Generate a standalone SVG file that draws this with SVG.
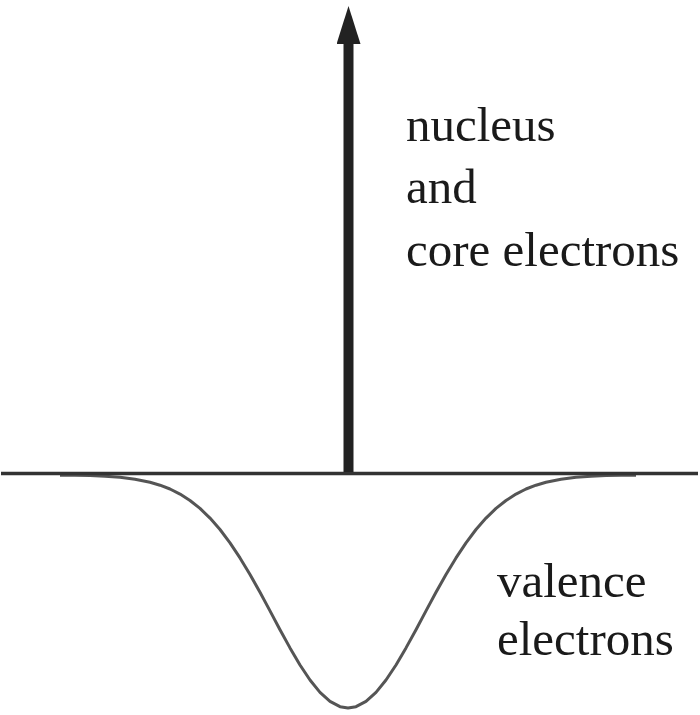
<svg xmlns="http://www.w3.org/2000/svg" width="700" height="715" viewBox="0 0 700 715">
<style>
text{font-family:"Liberation Serif","Times New Roman",serif;font-size:49px;fill:#1a1a1a}
</style>
<defs>
<marker id="ah" viewBox="0 0 38 24" refX="2" refY="12" markerWidth="38" markerHeight="24" markerUnits="userSpaceOnUse" orient="auto">
<path d="M0 0 L38 12 L0 24 Z" fill="#222"/>
</marker>
</defs>
<rect width="700" height="715" fill="#fff"/>
<g id="connectors">
<polyline id="curve" fill="none" stroke="#555" stroke-width="3" stroke-linejoin="round" points="60,475.2 75,475.3 90,475.6 105,476.2 120,477.3 135,479.2 150,482.2 160,485.2 170,489.0 180,494.1 190,500.5 200,508.4 210,518.1 220,529.5 230,542.8 240,557.9 250,574.5 260,592.3 270,610.9 280,629.7 290,647.9 300,665.0 310,680.0 320,692.4 330,701.4 340,706.7 348,708 356,706.7 366,701.4 376,692.4 386,680.0 396,665.0 406,647.9 416,629.7 426,610.9 436,592.3 446,574.5 456,557.9 466,542.8 476,529.5 486,518.1 496,508.4 506,500.5 516,494.1 526,489.0 536,485.2 546,482.2 561,479.2 576,477.3 591,476.2 606,475.6 621,475.3 636,475.2"/>
<line id="axis" x1="1" y1="473.5" x2="698" y2="473.5" stroke="#333" stroke-width="3.5"/>
<line id="arrow" x1="348.5" y1="472" x2="348.5" y2="42" stroke="#222" stroke-width="10" marker-end="url(#ah)"/>
</g>
<g id="nucleus-label">
<text x="406" y="141">nucleus</text>
<text x="406" y="203">and</text>
<text x="406" y="266">core electrons</text>
</g>
<g id="valence-label">
<text x="497" y="597">valence</text>
<text x="497" y="655">electrons</text>
</g>
</svg>
